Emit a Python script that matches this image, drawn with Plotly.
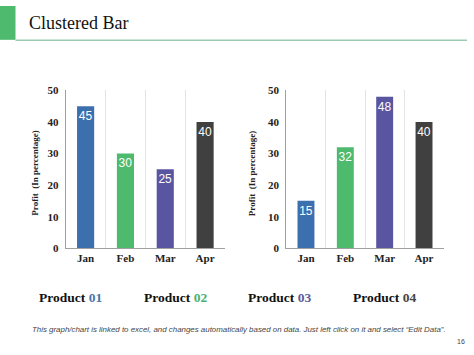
import plotly.graph_objects as go

months = ["Jan", "Feb", "Mar", "Apr"]
chart1_values = [45, 30, 25, 40]
chart2_values = [15, 32, 48, 40]
bar_colors = ["#3c6fae", "#4dba6e", "#5a55a0", "#404040"]
y_ticks = [0, 10, 20, 30, 40, 50]
products = ["01", "02", "03", "04"]
product_colors = ["#4a76a8", "#4cb070", "#5d5a9a", "#444444"]

W, H = 474, 355
def px(x): return x / W
def py(y): return 1 - y / H

fig = go.Figure()
xpos = list(range(len(months)))
for i, vals in enumerate([chart1_values, chart2_values]):
    suf = "" if i == 0 else "2"
    fig.add_trace(go.Bar(
        x=xpos, y=vals, text=[str(v) for v in vals],
        marker=dict(color=bar_colors, line=dict(width=0)),
        width=0.43,
        textposition="inside", insidetextanchor="end",
        constraintext="none",
        textfont=dict(family="Liberation Sans, Arial", size=12, color="white"),
        xaxis="x" + suf, yaxis="y" + suf, showlegend=False,
        hoverinfo="skip",
    ))

ydom = [py(250.7), py(87.3)]
xdoms = [[px(65.7), px(225)], [px(286.3), px(443.7)]]
tickfont = dict(family="Liberation Serif, Times New Roman", size=11, color="#222222")
for i, dom in enumerate(xdoms):
    suf = "" if i == 0 else str(i + 1)
    fig.update_layout(**{
        "xaxis" + suf: dict(
            domain=dom, range=[-0.5, 3.5], tickmode="array", tickvals=xpos,
            ticktext=["<b>%s</b>" % m for m in months], tickfont=tickfont,
            showgrid=False, zeroline=False, showline=True, linecolor="#a0a0a0",
            linewidth=1, ticks="", fixedrange=True, anchor="y" + suf,
            minor=dict(tick0=0.5, dtick=1, showgrid=True, gridcolor="#e4e4e4", gridwidth=1, ticks=""),
        ),
        "yaxis" + suf: dict(
            domain=ydom, range=[0, 50], tickmode="array", tickvals=y_ticks,
            ticktext=["<b>%d</b>" % t for t in y_ticks], tickfont=tickfont,
            showgrid=False, zeroline=False, showline=True, linecolor="#a0a0a0",
            linewidth=1, ticks="", ticklabelstandoff=4, anchor="x" + suf,
        ),
    })

anns = []
# y-axis titles
for xc in [35, 251.5]:
    anns.append(dict(x=px(xc), y=py(173.5), xref="paper", yref="paper",
                     text="<b>Profit  (In percentage)</b>", textangle=-90, showarrow=False,
                     font=dict(family="Liberation Serif, Times New Roman", size=9, color="#222222"),
                     xanchor="center", yanchor="middle"))
# title
anns.append(dict(x=px(27), y=py(18), xref="paper", yref="paper", text="Clustered Bar",
                 showarrow=False, xanchor="left", yanchor="middle",
                 font=dict(family="Liberation Serif, Times New Roman", size=18, color="#111111")))
# product labels
for xc, p, c in zip([70, 175, 279, 384], products, product_colors):
    anns.append(dict(x=px(xc), y=py(302), xref="paper", yref="paper",
                     text="<b>Product <span style='color:%s'>%s</span></b>" % (c, p),
                     showarrow=False, xanchor="center", yanchor="middle",
                     font=dict(family="Liberation Serif, Times New Roman", size=13.5, color="#111111")))
# footer
anns.append(dict(x=px(239), y=py(335), xref="paper", yref="paper",
                 text="<i>This graph/chart is linked to excel, and changes automatically based on data. Just left click on it and select \u201cEdit Data\u201d.</i>",
                 showarrow=False, xanchor="center", yanchor="middle",
                 font=dict(family="Liberation Sans, Arial", size=7.9, color="#444444")))
anns.append(dict(x=px(461), y=py(347), xref="paper", yref="paper", text="16",
                 showarrow=False, xanchor="center", yanchor="middle",
                 font=dict(family="Liberation Sans, Arial", size=7, color="#444444")))

shapes = [
    dict(type="rect", xref="paper", yref="paper", x0=0, x1=px(15.5), y0=py(35), y1=1,
         fillcolor="#4dba6e", line=dict(width=0), layer="above"),
    dict(type="line", xref="paper", yref="paper", x0=px(15.5), x1=px(467), y0=py(35.5), y1=py(35.5),
         line=dict(color="#9ccbb0", width=1.5)),
]

fig.update_layout(
    width=W, height=H, margin=dict(l=0, r=0, t=0, b=0),
    paper_bgcolor="white", plot_bgcolor="white",
    annotations=anns, shapes=shapes, bargap=0.57,
)
fig.write_html("out.html", config={"displayModeBar": False},
               post_script="document.body.style.margin='0';document.body.style.overflow='hidden';")
